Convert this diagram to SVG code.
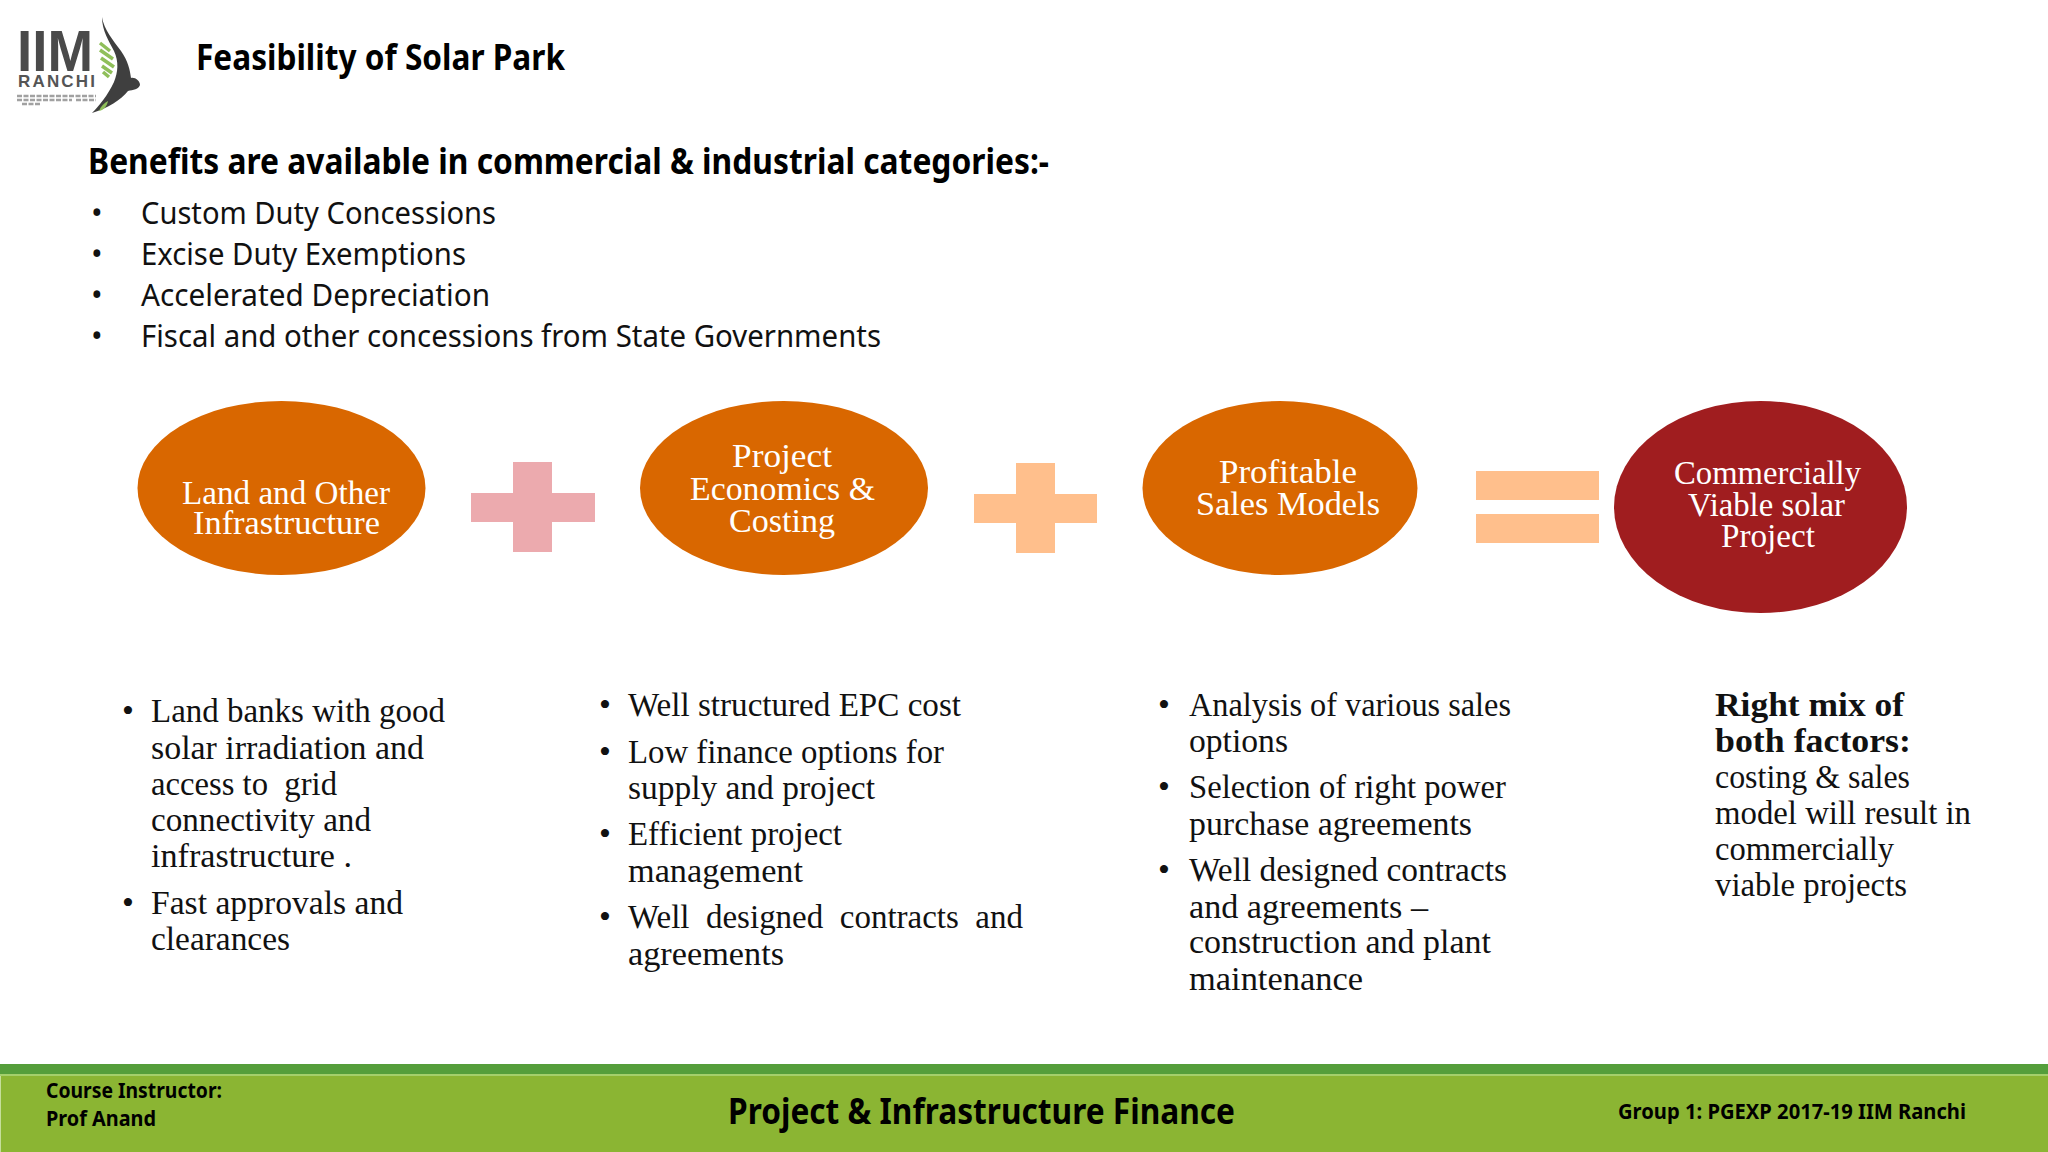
<svg xmlns="http://www.w3.org/2000/svg" width="2048" height="1152" viewBox="0 0 2048 1152">
<style>
text{white-space:pre}
.s{font-family:"Noto Sans","Open Sans","Liberation Sans",sans-serif;fill:#000}
.b{font-weight:700}
.t{font-size:35px}
.l{font-size:31px;fill:#111}
.f{font-size:22px}
.e{font-family:"Liberation Serif",serif;font-size:34px;fill:#fff;text-anchor:start}
.g{font-family:"Liberation Serif",serif;font-size:34px;fill:#111}
.o{fill:#D96700}
.pk{fill:#ECAAAE}
.pe{fill:#FFBF8C}
</style>
<rect width="2048" height="1152" fill="#fff"/>
<g id="logo">
<text x="17" y="71" textLength="76" lengthAdjust="spacingAndGlyphs" font-family="Liberation Sans, sans-serif" font-weight="700" font-size="57" fill="#4a4a4a">IIM</text>
<text x="18" y="87" textLength="77" lengthAdjust="spacing" font-family="Liberation Sans, sans-serif" font-weight="700" font-size="17" fill="#555">RANCHI</text>
<path d="M17 96H96M17 100H72M76 100H96M22 104H40" stroke="#8a8a8a" stroke-width="2.500" stroke-dasharray="5 1.500" fill="none" opacity=".8"/>
<path d="M102 17C104 30 113 40 121 51C128 61 130 70 131 78C135 77 140 81 140 85C139 89 133 90 128 91C121 100 108 108 92 113C99 106 108 95 114 82C118 72 119 62 114 51C109 41 102 31 102 17Z" fill="#3f3f3f"/>
<path d="M100 43L110 51M100 50L113 59M101 58L114 67M102 66L112 73M103 72L109 77" stroke="#8fbf5a" stroke-width="3.500" fill="none"/>
<path d="M99 111C101 106 104 103 108 101C107 106 104 110 99 111Z" fill="#8fbf5a"/>
</g>
<g id="header">
<text class="s b t" x="196" y="70" textLength="369" lengthAdjust="spacingAndGlyphs">Feasibility of Solar Park</text>
<text class="s b t" x="88" y="174" textLength="961" lengthAdjust="spacingAndGlyphs">Benefits are available in commercial &amp; industrial categories:-</text>
</g>
<g id="benefits">
<text class="s l" x="91" y="224" font-size="36">•</text><text class="s l" x="141" y="224" textLength="355" lengthAdjust="spacingAndGlyphs">Custom Duty Concessions</text>
<text class="s l" x="91" y="265">•</text><text class="s l" x="141" y="265" textLength="325" lengthAdjust="spacingAndGlyphs">Excise Duty Exemptions</text>
<text class="s l" x="91" y="306">•</text><text class="s l" x="141" y="306" textLength="349" lengthAdjust="spacingAndGlyphs">Accelerated Depreciation</text>
<text class="s l" x="91" y="347">•</text><text class="s l" x="141" y="347" textLength="740" lengthAdjust="spacingAndGlyphs">Fiscal and other concessions from State Governments</text>
</g>
<g id="connectors">
<path class="pk" d="M513 462H552V493H595V522H552V552H513V522H471V493H513Z"/>
<path class="pe" d="M1016 463H1055V494H1097V523H1055V553H1016V523H974V494H1016Z"/>
<rect class="pe" x="1476" y="471" width="123" height="29"/>
<rect class="pe" x="1476" y="514" width="123" height="29"/>
</g>
<g id="node-land">
<ellipse class="o" cx="281.500" cy="488" rx="144" ry="87"/>
<text class="e" x="182" y="504" textLength="208" lengthAdjust="spacingAndGlyphs">Land and Other</text>
<text class="e" x="193" y="534" textLength="187" lengthAdjust="spacingAndGlyphs">Infrastructure</text>
</g>
<g id="node-project">
<ellipse class="o" cx="784" cy="488" rx="144" ry="87"/>
<text class="e" x="732" y="467" textLength="100" lengthAdjust="spacingAndGlyphs">Project</text>
<text class="e" x="690" y="500" textLength="185" lengthAdjust="spacingAndGlyphs">Economics &amp;</text>
<text class="e" x="729" y="532" textLength="106" lengthAdjust="spacingAndGlyphs">Costing</text>
</g>
<g id="node-sales">
<ellipse class="o" cx="1280" cy="488" rx="137.500" ry="87"/>
<text class="e" x="1219" y="483" textLength="138" lengthAdjust="spacingAndGlyphs">Profitable</text>
<text class="e" x="1196" y="515" textLength="184" lengthAdjust="spacingAndGlyphs">Sales Models</text>
</g>
<g id="node-viable">
<ellipse cx="1760.500" cy="507" rx="146.500" ry="106" fill="#A01D1F"/>
<text class="e" x="1674" y="484" textLength="187" lengthAdjust="spacingAndGlyphs">Commercially</text>
<text class="e" x="1688" y="516" textLength="157" lengthAdjust="spacingAndGlyphs">Viable solar</text>
<text class="e" x="1721" y="547" textLength="94" lengthAdjust="spacingAndGlyphs">Project</text>
</g>
<g id="col-land">
<text class="g" x="122" y="722">•</text><text class="g" x="151" y="722" textLength="294" lengthAdjust="spacingAndGlyphs">Land banks with good</text>
<text class="g" x="151" y="759" textLength="273" lengthAdjust="spacingAndGlyphs">solar irradiation and</text>
<text class="g" x="151" y="795" textLength="186" lengthAdjust="spacingAndGlyphs">access to  grid</text>
<text class="g" x="151" y="831" textLength="220" lengthAdjust="spacingAndGlyphs">connectivity and</text>
<text class="g" x="151" y="867" textLength="201" lengthAdjust="spacingAndGlyphs">infrastructure .</text>
<text class="g" x="122" y="914">•</text><text class="g" x="151" y="914" textLength="252" lengthAdjust="spacingAndGlyphs">Fast approvals and</text>
<text class="g" x="151" y="950" textLength="139" lengthAdjust="spacingAndGlyphs">clearances</text>
</g>
<g id="col-project">
<text class="g" x="599" y="716">•</text><text class="g" x="628" y="716" textLength="333" lengthAdjust="spacingAndGlyphs">Well structured EPC cost</text>
<text class="g" x="599" y="763">•</text><text class="g" x="628" y="763" textLength="316" lengthAdjust="spacingAndGlyphs">Low finance options for</text>
<text class="g" x="628" y="799" textLength="247" lengthAdjust="spacingAndGlyphs">supply and project</text>
<text class="g" x="599" y="845">•</text><text class="g" x="628" y="845" textLength="214" lengthAdjust="spacingAndGlyphs">Efficient project</text>
<text class="g" x="628" y="882" textLength="175" lengthAdjust="spacingAndGlyphs">management</text>
<text class="g" x="599" y="928">•</text><text class="g" x="628" y="928" textLength="395" lengthAdjust="spacingAndGlyphs">Well  designed  contracts  and</text>
<text class="g" x="628" y="965" textLength="156" lengthAdjust="spacingAndGlyphs">agreements</text>
</g>
<g id="col-sales">
<text class="g" x="1158" y="716">•</text><text class="g" x="1189" y="716" textLength="322" lengthAdjust="spacingAndGlyphs">Analysis of various sales</text>
<text class="g" x="1189" y="752" textLength="99" lengthAdjust="spacingAndGlyphs">options</text>
<text class="g" x="1158" y="798">•</text><text class="g" x="1189" y="798" textLength="317" lengthAdjust="spacingAndGlyphs">Selection of right power</text>
<text class="g" x="1189" y="835" textLength="283" lengthAdjust="spacingAndGlyphs">purchase agreements</text>
<text class="g" x="1158" y="881">•</text><text class="g" x="1189" y="881" textLength="318" lengthAdjust="spacingAndGlyphs">Well designed contracts</text>
<text class="g" x="1189" y="918" textLength="239" lengthAdjust="spacingAndGlyphs">and agreements –</text>
<text class="g" x="1189" y="953" textLength="302" lengthAdjust="spacingAndGlyphs">construction and plant</text>
<text class="g" x="1189" y="990" textLength="174" lengthAdjust="spacingAndGlyphs">maintenance</text>
</g>
<g id="col-viable">
<text class="g" font-weight="700" x="1715" y="716" textLength="189" lengthAdjust="spacingAndGlyphs">Right mix of</text>
<text class="g" font-weight="700" x="1715" y="752" textLength="196" lengthAdjust="spacingAndGlyphs">both factors:</text>
<text class="g" x="1715" y="788" textLength="195" lengthAdjust="spacingAndGlyphs">costing &amp; sales</text>
<text class="g" x="1715" y="824" textLength="256" lengthAdjust="spacingAndGlyphs">model will result in</text>
<text class="g" x="1715" y="860" textLength="179" lengthAdjust="spacingAndGlyphs">commercially</text>
<text class="g" x="1715" y="896" textLength="192" lengthAdjust="spacingAndGlyphs">viable projects</text>
</g>
<g id="footer">
<rect y="1064" width="2048" height="10" fill="#559E3B"/>
<rect y="1074" width="2048" height="2" fill="#A4CF6B"/>
<rect y="1076" width="2048" height="76" fill="#8BB533"/>
<rect y="1076" width="1" height="76" fill="#C5DE9A"/>
<text class="s b f" x="46" y="1098" textLength="176" lengthAdjust="spacingAndGlyphs">Course Instructor:</text>
<text class="s b f" x="46" y="1126" textLength="110" lengthAdjust="spacingAndGlyphs">Prof Anand</text>
<text class="s b t" x="728" y="1124" textLength="507" lengthAdjust="spacingAndGlyphs">Project &amp; Infrastructure Finance</text>
<text class="s b f" x="1618" y="1119" textLength="348" lengthAdjust="spacingAndGlyphs">Group 1: PGEXP 2017-19 IIM Ranchi</text>
</g>
</svg>
